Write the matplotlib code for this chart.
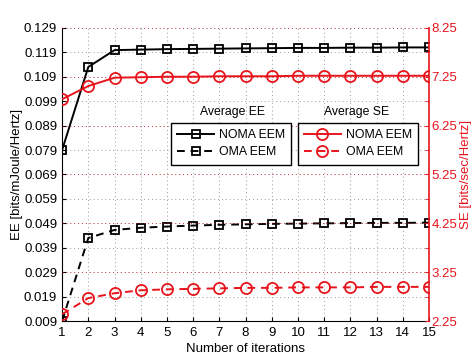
import matplotlib
matplotlib.use("Agg")
import matplotlib.pyplot as plt
from matplotlib.lines import Line2D

plt.rcParams['font.family'] = ['Liberation Sans', 'DejaVu Sans']

iterations = list(range(1, 16))

# Average EE (left axis)
ee_noma = [0.079, 0.113, 0.1199, 0.1201, 0.1203, 0.1204, 0.1205, 0.1206,
           0.1207, 0.1208, 0.1208, 0.1209, 0.1209, 0.1210, 0.1210]
ee_oma = [0.009, 0.043, 0.0463, 0.0472, 0.0477, 0.0481, 0.0484, 0.0486,
          0.0488, 0.0489, 0.0490, 0.0491, 0.0492, 0.0492, 0.0493]

# Average SE (right axis)
se_noma = [6.79, 7.06, 7.23, 7.24, 7.25, 7.25, 7.26, 7.26,
           7.26, 7.27, 7.27, 7.27, 7.27, 7.27, 7.27]
se_oma = [2.39, 2.72, 2.82, 2.88, 2.90, 2.91, 2.92, 2.93,
          2.93, 2.94, 2.94, 2.94, 2.95, 2.95, 2.95]

ee_ticks = [0.009, 0.019, 0.029, 0.039, 0.049, 0.059, 0.069, 0.079,
            0.089, 0.099, 0.109, 0.119, 0.129]
se_ticks = [2.25, 3.25, 4.25, 5.25, 6.25, 7.25, 8.25]

red = '#e8141c'
fs = 9.5
lfs = 8.8

fig = plt.figure(figsize=(4.74, 3.62), dpi=100)
ax = fig.add_axes([0.131, 0.113, 0.774, 0.810])
ax2 = ax.twinx()

ax.plot(iterations, ee_noma, '-', color='black', lw=1.4, marker='s',
        ms=6, mfc='none', mew=1.3, zorder=3)
ax.plot(iterations, ee_oma, '--', color='black', lw=1.4, marker='s',
        ms=6, mfc='none', mew=1.3, dashes=(4, 3), zorder=3)
ax2.plot(iterations, se_noma, '-', color=red, lw=1.4, marker='o',
         ms=8, mfc='none', mew=1.3, zorder=3)
ax2.plot(iterations, se_oma, '--', color=red, lw=1.4, marker='o',
         ms=8, mfc='none', mew=1.3, dashes=(4, 3), zorder=3)

ax.set_xlim(1, 15)
ax.set_ylim(0.009, 0.129)
ax.set_xticks(iterations)
ax.set_yticks(ee_ticks)
ax.set_yticklabels(['%.3f' % t for t in ee_ticks])
ax.grid(True, color='#999999', linestyle=(0, (1, 3)), lw=0.7)
ax.tick_params(direction='in', labelsize=fs, length=3)
ax.tick_params(axis='x', pad=4)
ax.set_xlabel('Number of iterations', fontsize=fs, labelpad=3)
ax.set_ylabel('EE [bits/mJoule/Hertz]', fontsize=fs, labelpad=1)

ax2.set_ylim(2.25, 8.25)
ax2.set_yticks(se_ticks)
ax2.set_yticks([2.75, 3.75, 4.75, 5.75, 6.75, 7.75], minor=True)
ax2.yaxis.grid(True, color=red, linestyle=(0, (1, 3)), lw=0.7, alpha=0.7)
ax2.tick_params(axis='y', which='both', direction='in', colors=red,
                labelsize=fs, length=3, pad=2)
ax2.set_ylabel('SE [bits/sec/Hertz]', fontsize=fs, color=red, labelpad=2)

for a in (ax, ax2):
    a.spines['top'].set_visible(False)
ax.spines['right'].set_visible(False)
ax2.spines['right'].set_color(red)
ax2.spines['right'].set_linewidth(1.2)
ax2.spines['left'].set_visible(False)
ax2.spines['bottom'].set_visible(False)

h_ee = [Line2D([], [], color='black', lw=1.4, marker='s', ms=6, mfc='none', mew=1.3),
        Line2D([], [], color='black', lw=1.4, ls='--', dashes=(4, 3), marker='s',
               ms=6, mfc='none', mew=1.3)]
h_se = [Line2D([], [], color=red, lw=1.4, marker='o', ms=8, mfc='none', mew=1.3),
        Line2D([], [], color=red, lw=1.4, ls='--', dashes=(4, 3), marker='o',
               ms=8, mfc='none', mew=1.3)]
labels = ['NOMA EEM', 'OMA EEM']

leg_kw = dict(loc='upper left', fontsize=lfs, frameon=True, fancybox=False,
              edgecolor='black', framealpha=1, handlelength=3.0, borderpad=0.5,
              labelspacing=0.45, handletextpad=0.4, borderaxespad=0)
leg1 = ax2.legend(h_ee, labels, bbox_to_anchor=(0.297, 0.676), **leg_kw)
leg1.get_frame().set_linewidth(1.0)
ax2.add_artist(leg1)
leg2 = ax2.legend(h_se, labels, bbox_to_anchor=(0.643, 0.676), **leg_kw)
leg2.get_frame().set_linewidth(1.0)

fig.text(232 / 474, 1 - 112 / 362, 'Average EE', fontsize=lfs, ha='center', va='center')
fig.text(357 / 474, 1 - 112 / 362, 'Average SE', fontsize=lfs, ha='center', va='center')

fig.savefig('out.png', dpi=100)
